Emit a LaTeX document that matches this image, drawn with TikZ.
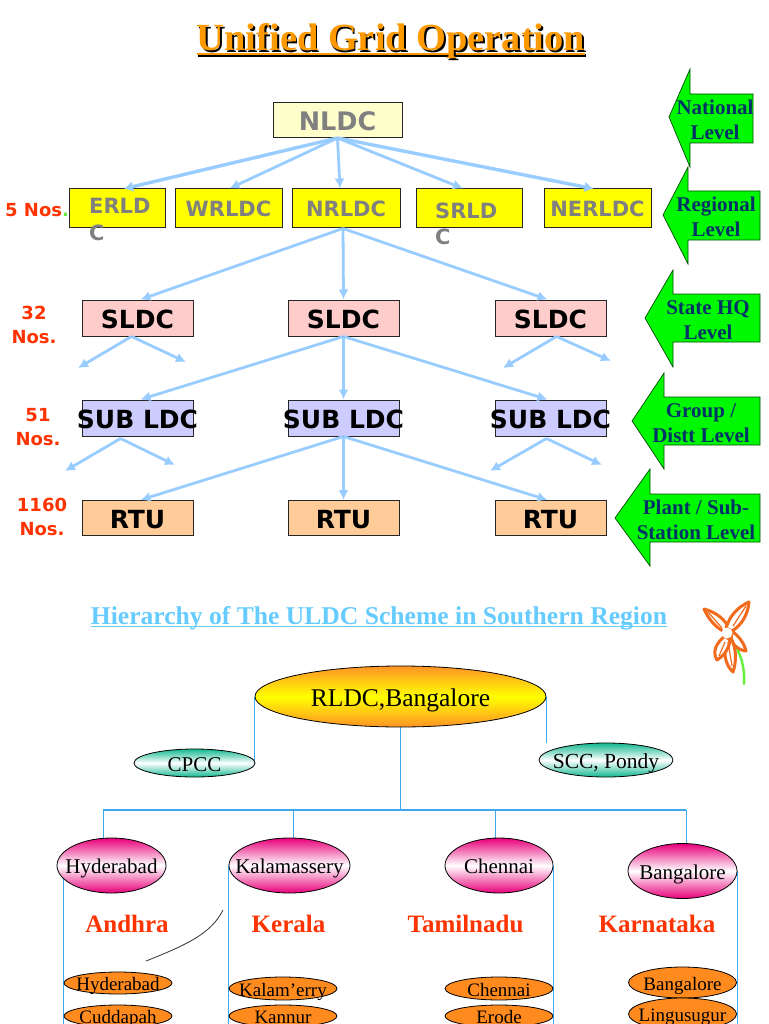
\documentclass[tikz,border=0pt]{standalone}
\usepackage{fontspec}
\setmainfont{Liberation Serif}
\newfontfamily\dv{DejaVu Sans}
\usetikzlibrary{arrows.meta,shapes.geometric,backgrounds}
\newcommand{\fsz}[1]{\fontsize{#1}{#1}\selectfont}
\newcommand{\ctr}[1]{\smash{\raisebox{-.4em}{\makebox[0pt]{#1}}}}
\definecolor{redlab}{HTML}{FF3300}
\definecolor{arrowblue}{HTML}{99CCFF}
\definecolor{linkblue}{HTML}{3FA9F0}
\definecolor{lvgreen}{HTML}{00F800}
\definecolor{lvtext}{HTML}{003366}
\definecolor{boxgray}{HTML}{808080}
\definecolor{pinkc}{HTML}{E8007A}
\definecolor{tealc}{HTML}{12B890}
\definecolor{orangec}{HTML}{FF8A1E}
\definecolor{flowerc}{HTML}{F26A1B}
\definecolor{titleor}{HTML}{FF9900}
\definecolor{subblue}{HTML}{66CCFF}
\definecolor{rlright}{HTML}{FF9326}
\definecolor{fillnl}{HTML}{FFFFCC}
\definecolor{fills}{HTML}{FFCCCC}
\definecolor{fillu}{HTML}{CCCCFF}
\definecolor{fillr}{HTML}{FFCC99}
\definecolor{pureyellow}{HTML}{FFFF00}
\definecolor{stemgreen}{HTML}{66F03C}
\tikzset{
 x=1pt,y=-1pt,
 lvl/.style={draw=black!70!green,line width=0.7pt,fill=lvgreen},
 lvltext/.style={inner sep=0,align=center,text=lvtext,font=\bfseries\fontsize{21}{25.5}\selectfont},
 bx/.style={draw=black!85,line width=1pt,inner sep=0,anchor=center},
 boxgrey/.style={text=boxgray,font=\dv\bfseries\fsz{21}},
 boxblack/.style={text=black,font=\dv\bfseries\fsz{25}},
 flow/.style={draw=arrowblue,line width=3.4pt,-{Latex[length=9pt,width=11pt]},shorten >=-1pt},
 flowthin/.style={draw=arrowblue,line width=2.8pt,-{Latex[length=10pt,width=10pt]}},
 cnt/.style={inner sep=0,align=center,text=redlab,font=\dv\bfseries\fontsize{18}{24}\selectfont},
 link/.style={draw=linkblue,line width=1pt},
 sidelink/.style={draw=linkblue,line width=1.5pt},
 ell/.style={ellipse,draw=black,line width=0.8pt,inner sep=0},
 state/.style={inner sep=0,anchor=base,text=redlab,font=\bfseries\fsz{25}},
 petal/.style={draw=flowerc,line width=3pt,fill=white,line join=round},
}
\begin{document}
\begin{tikzpicture}
\useasboundingbox (0,0) rectangle (768,1024);
\clip (0,0) rectangle (768,1024);

% titles
\fill[black] (198,54.5) rectangle (586,57);
\fill[titleor] (197,53) rectangle (585,55.5);
\node[inner sep=0,anchor=base,font=\bfseries\fsz{38.4}] (title) at (391,51)
  {\rlap{\kern1.6pt\raisebox{-1.4pt}{\textcolor{black}{Unified Grid Operation}}}\textcolor{titleor}{Unified Grid Operation}};
\node[inner sep=0,anchor=base,font=\bfseries\fsz{25.6},text=subblue] (subt) at (379,624) {Hierarchy of The ULDC Scheme in Southern Region};
\fill[subblue] (91,625.5) rectangle (667,627);

% level arrows
\draw[lvl] (669,117)--(690,69)--(690,94)--(753,94)--(753,143)--(690,143)--(690,167)--cycle;
\draw[lvl] (663,215)--(688,167)--(688,191)--(760,191)--(760,240)--(688,240)--(688,264)--cycle;
\draw[lvl] (645,318)--(673,270)--(673,294)--(760,294)--(760,342)--(673,342)--(673,367)--cycle;
\draw[lvl] (632,421)--(664,373)--(664,397)--(760,397)--(760,445)--(664,445)--(664,469)--cycle;
\draw[lvl] (615,518)--(650,469)--(650,494)--(760,494)--(760,542)--(650,542)--(650,566)--cycle;
\node[lvltext] (l1) at (715,120) {National\\Level};
\node[lvltext] (l2) at (716,217) {Regional\\Level};
\node[lvltext] (l3) at (708,320) {State HQ\\Level};
\node[lvltext] (l4) at (701,423) {Group /\\Distt Level};
\node[lvltext] (l5) at (696,520) {Plant / Sub-\\Station Level};

% counts
\node[inner sep=0,anchor=base west,font=\dv\bfseries\fsz{18}] (c0) at (5,217) {\textcolor{redlab}{5 Nos}\textcolor{stemgreen}{.}};
\node[cnt] (c1) at (34,325) {32\\Nos.};
\node[cnt] (c2) at (38,427) {51\\Nos.};
\node[cnt] (c3) at (42,517) {1160\\Nos.};

% boxes
\node[bx,fill=fillnl,minimum width=129pt,minimum height=35pt,text=boxgray,font=\dv\bfseries\fsz{25.5}] (nl) at (337.5,120) {\ctr{NLDC}};
\node[bx,fill=pureyellow,minimum width=96pt,minimum height=39pt] (er) at (117,208.5) {};
\node[bx,fill=pureyellow,minimum width=107pt,minimum height=39pt,boxgrey] (wr) at (228.5,208.5) {\ctr{WRLDC}};
\node[bx,fill=pureyellow,minimum width=108pt,minimum height=39pt,boxgrey] (nr) at (346,208.5) {\ctr{NRLDC}};
\node[bx,fill=pureyellow,minimum width=106pt,minimum height=39pt] (sr) at (469,208.5) {};
\node[bx,fill=pureyellow,minimum width=107pt,minimum height=39pt,boxgrey] (ne) at (597.5,208.5) {\ctr{NERLDC}};
\node[inner sep=0,anchor=north west,align=left,boxgrey,font=\dv\bfseries\fontsize{21}{27}\selectfont] (ert) at (89,198) {ERLD\\C};
\node[inner sep=0,anchor=north west,align=left,boxgrey,font=\dv\bfseries\fontsize{21}{26}\selectfont] (srt) at (435,202.5) {SRLD\\C};

\foreach \n/\xx in {a/137.5,b/343.5,c/550.5}{
 \node[bx,fill=fills,minimum width=111pt,minimum height=36pt,boxblack] (s\n) at (\xx,318) {\ctr{SLDC}};
 \node[bx,fill=fillu,minimum width=111pt,minimum height=36pt,boxblack] (u\n) at (\xx,418) {\ctr{SUB LDC}};
 \node[bx,fill=fillr,minimum width=111pt,minimum height=35pt,boxblack] (r\n) at (\xx,518) {\ctr{RTU}};
}

% free ends
\coordinate (f1) at (78,368); \coordinate (f2) at (186,362);
\coordinate (f3) at (503,368); \coordinate (f4) at (611,361);
\coordinate (f5) at (65,471); \coordinate (f6) at (175,465);
\coordinate (f7) at (490,471); \coordinate (f8) at (602,465);

% flow arrows
\draw[flow] (nl.south) -- ([xshift=8pt]er.north);
\draw[flowthin] (nl.south) -- ([xshift=1pt]wr.north);
\draw[flowthin] (nl.south) -- ([xshift=-6pt]nr.north);
\draw[flowthin] (nl.south) -- ([xshift=-6pt]sr.north);
\draw[flow] (nl.south) -- ([xshift=-5pt]ne.north);
\draw[flowthin] ([xshift=-3pt]nr.south) -- ([xshift=3pt]sa.north);
\draw[flowthin] ([xshift=-3pt]nr.south) -- (sb.north);
\draw[flowthin] ([xshift=-3pt]nr.south) -- ([xshift=-3pt]sc.north);
\draw[flowthin] ([xshift=-6pt]sa.south) -- (f1);
\draw[flowthin] ([xshift=-6pt]sa.south) -- (f2);
\draw[flowthin] ([xshift=6pt]sc.south) -- (f3);
\draw[flowthin] ([xshift=6pt]sc.south) -- (f4);
\draw[flowthin] (sb.south) -- ([xshift=3pt]ua.north);
\draw[flowthin] (sb.south) -- (ub.north);
\draw[flowthin] (sb.south) -- ([xshift=-3pt]uc.north);
\draw[flowthin] ([xshift=-17pt,yshift=-2pt]ua.south) -- (f5);
\draw[flowthin] ([xshift=-17pt,yshift=-2pt]ua.south) -- (f6);
\draw[flowthin] ([xshift=-4pt,yshift=-2pt]uc.south) -- (f7);
\draw[flowthin] ([xshift=-4pt,yshift=-2pt]uc.south) -- (f8);
\draw[flowthin] (ub.south) -- ([xshift=3pt]ra.north);
\draw[flowthin] (ub.south) -- (rb.north);
\draw[flowthin] (ub.south) -- ([xshift=-3pt]rc.north);

% flower
\draw[draw=stemgreen,line width=2.4pt,line cap=round] (732,642) .. controls (741,652) and (745,668) .. (744,684);
\draw[petal] (727,633) .. controls (715,628) and (708,618) .. (704,609) .. controls (716,612) and (726,620) .. (729,629) -- cycle;
\draw[petal] (726,628) .. controls (730,615) and (738,607) .. (749,602) .. controls (748,614) and (742,625) .. (732,631) -- cycle;
\draw[petal] (732,631) .. controls (738,636) and (744,642) .. (746,651) .. controls (738,650) and (733,645) .. (731,639) -- cycle;
\draw[petal] (731,638) .. controls (736,648) and (737,660) .. (733,672) .. controls (725,665) and (723,652) .. (726,639) -- cycle;
\draw[petal] (725,636) .. controls (716,643) and (712,652) .. (717,660) .. controls (725,655) and (729,648) .. (730,640) -- cycle;
\fill[white] (727,633) circle (5.5);
\draw[draw=flowerc,line width=1.2pt] (708,612) -- (722,628) (746,606) -- (733,626) (728,642) -- (732,666) (725,642) -- (719,656);

% southern hierarchy
\node[ell,minimum width=291pt,minimum height=61pt,top color=rlright,bottom color=rlright,middle color=pureyellow,font=\fsz{25.5}] (rl) at (400.5,696.5) {\ctr{RLDC,Bangalore}};
\node[ell,minimum width=121pt,minimum height=28pt,top color=tealc,bottom color=tealc,middle color=white,font=\fsz{21}] (cp) at (194.5,763) {\ctr{CPCC}};
\node[ell,minimum width=134pt,minimum height=34pt,top color=tealc,bottom color=tealc,middle color=white,font=\fsz{21.5}] (sc) at (606,760) {\ctr{SCC, Pondy}};

\foreach \n/\xx/\yy/\ww/\tt in {hy/111.5/865.5/109/Hyderabad,ka/289.5/865.5/121/Kalamassery,ch/499/865.5/108/Chennai,ba/682.5/871/109/Bangalore}{
 \node[ell,minimum width=\ww pt,minimum height=55pt,top color=pinkc,bottom color=pinkc,middle color=white,font=\fsz{21}] (\n) at (\xx,\yy) {\ctr{\tt}};
}
\foreach \n/\xx/\yy/\hh/\tt in {oa/118/983/22/Hyderabad,ob/118/1016/22/Cuddapah,oc/283/988.5/23/Kalam'erry,od/283/1016/22/Kannur,oe/499/988.5/23/Chennai,of/499/1016/22/Erode,og/682.5/982.5/31/Bangalore,oh/682.5/1014/32/Lingusugur}{
 \node[ell,minimum width=108pt,minimum height=\hh pt,fill=orangec,font=\fsz{19}] (\n) at (\xx,\yy) {\ctr{\tt}};
}
\node[state] (t1) at (127,932) {Andhra};
\node[state] (t2) at (288.5,932) {Kerala};
\node[state] (t3) at (465.5,932) {Tamilnadu};
\node[state] (t4) at (657,932) {Karnataka};

\coordinate (bar) at (400.5,810);
\coordinate (bot) at (0,1024);
\coordinate (cv1) at (146,961);
\coordinate (cv2) at (223,910);
\draw[draw=black!80,line width=0.8pt] (cv1) .. controls (186,945) and (211,934) .. (cv2);

\begin{scope}[on background layer]
\fill[white] (0,0) rectangle (768,1024);
\draw[link] (rl.west) -- (rl.west |- cp.east);
\draw[link] (rl.east) -- (rl.east |- sc.north);
\draw[link] (rl.south) -- (bar);
\draw[link,line width=1.6pt] ([xshift=-8.5pt]hy.north |- bar) -- ([xshift=3.5pt]ba.north |- bar);
\draw[link] ([xshift=-8.5pt]hy.north |- bar) -- ([xshift=-8.5pt]hy.north);
\draw[link] ([xshift=3.5pt]ka.north |- bar) -- ([xshift=3.5pt]ka.north);
\draw[link] ([xshift=-4pt]ch.north |- bar) -- ([xshift=-4pt]ch.north);
\draw[link] ([xshift=3.5pt]ba.north |- bar) -- ([xshift=3.5pt]ba.north);
\draw[sidelink] (oa.west |- hy.center) -- (oa.west |- bot);
\draw[sidelink] (ka.west) -- (ka.west |- bot);
\draw[sidelink] (ch.east) -- (ch.east |- bot);
\draw[sidelink] (ba.east) -- (ba.east |- bot);
\end{scope}
\end{tikzpicture}
\end{document}
